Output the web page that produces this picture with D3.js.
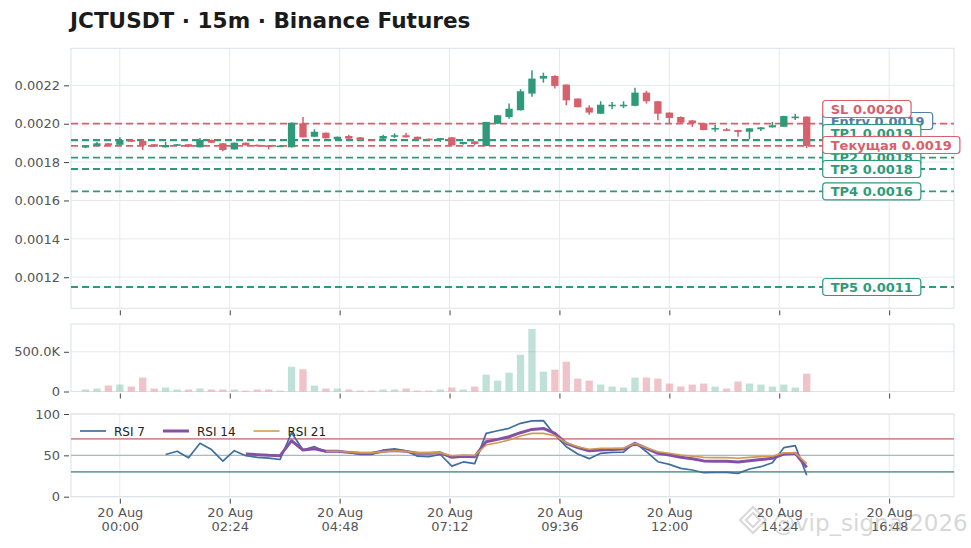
<!DOCTYPE html>
<html>
<head>
<meta charset="utf-8">
<script src="https://cdn.jsdelivr.net/npm/d3@7"></script>
<style>
  body { margin: 0; background: #fff; }
  svg { font-family: "DejaVu Sans", sans-serif; display: block; }
</style>
</head>
<body>
<div id="container"></div>
<script>
const title = "JCTUSDT · 15m · Binance Futures";

// 15m candles, first one opens 19 Aug 23:15
const firstCandle = "2025-08-19 23:15";
const candleMinutes = 15;
const viewStart = "2025-08-19 22:56";
const viewEnd = "2025-08-20 18:13";

const opens = [0.001878,0.001884,0.001898,0.001890,0.001915,0.001911,0.001893,0.001877,0.001885,0.001893,
  0.001877,0.001915,0.001898,0.001866,0.001901,0.001890,0.001887,0.001880,0.001877,0.002002,
  0.001932,0.001953,0.001919,0.001936,0.001929,0.001919,0.001922,0.001937,0.001940,0.001932,
  0.001922,0.001915,0.001929,0.001894,0.001908,0.001884,0.002000,0.002035,0.002070,0.002157,
  0.002235,0.002249,0.002204,0.002131,0.002084,0.002052,0.002093,0.002093,0.002093,0.002162,
  0.002117,0.002058,0.002035,0.002017,0.002002,0.001975,0.001971,0.001967,0.001958,0.001971,
  0.001981,0.001984,0.002030,0.002037];
const highs = [0.001889,0.001905,0.001899,0.001929,0.001918,0.001920,0.001894,0.001905,0.001894,0.001894,
  0.001925,0.001918,0.001899,0.001902,0.001902,0.001891,0.001889,0.001889,0.002006,0.002035,
  0.001971,0.001954,0.001933,0.001943,0.001931,0.001920,0.001943,0.001950,0.001953,0.001933,
  0.001923,0.001926,0.001931,0.001906,0.001910,0.002010,0.002046,0.002105,0.002180,0.002279,
  0.002266,0.002252,0.002205,0.002132,0.002096,0.002117,0.002113,0.002117,0.002187,0.002172,
  0.002119,0.002059,0.002037,0.002019,0.002004,0.001993,0.001978,0.001969,0.001978,0.001983,
  0.002009,0.002042,0.002051,0.002038];
const lows = [0.001873,0.001881,0.001884,0.001889,0.001905,0.001863,0.001878,0.001876,0.001884,0.001878,
  0.001876,0.001899,0.001856,0.001865,0.001886,0.001882,0.001866,0.001878,0.001876,0.001928,
  0.001931,0.001923,0.001918,0.001920,0.001913,0.001910,0.001920,0.001925,0.001928,0.001918,
  0.001913,0.001905,0.001886,0.001891,0.001887,0.001882,0.001999,0.002026,0.002069,0.002140,
  0.002214,0.002183,0.002096,0.002085,0.002047,0.002051,0.002075,0.002082,0.002091,0.002105,
  0.002018,0.002000,0.002004,0.001984,0.001966,0.001958,0.001962,0.001932,0.001919,0.001962,
  0.001980,0.001983,0.002019,0.001872];
const closes = [0.001884,0.001898,0.001887,0.001915,0.001906,0.001887,0.001880,0.001889,0.001893,0.001880,
  0.001915,0.001901,0.001863,0.001901,0.001887,0.001884,0.001880,0.001886,0.002005,0.001929,
  0.001958,0.001924,0.001932,0.001922,0.001915,0.001911,0.001936,0.001940,0.001929,0.001919,
  0.001915,0.001925,0.001887,0.001905,0.001894,0.002009,0.002044,0.002078,0.002169,0.002235,
  0.002249,0.002197,0.002122,0.002086,0.002058,0.002099,0.002099,0.002099,0.002162,0.002117,
  0.002052,0.002030,0.002005,0.002002,0.001967,0.001978,0.001964,0.001957,0.001976,0.001981,
  0.001992,0.002040,0.002037,0.001884];
const volumes = [25000,37000,75000,87000,62000,175000,37000,50000,25000,25000,
  37000,25000,25000,25000,12000,25000,25000,12000,312000,280000,
  75000,37000,37000,25000,12000,12000,25000,25000,37000,12000,
  12000,25000,50000,25000,62000,212000,137000,237000,462000,787000,
  250000,275000,375000,162000,137000,87000,62000,50000,175000,175000,
  162000,100000,62000,87000,100000,62000,37000,125000,100000,87000,
  62000,87000,50000,225000];

const rsi7 = [null,null,null,null,null,null,null,
  51,55,47,64.6,57,43,55.6,49.6,47.5,46.7,45,77.4,56.5,60.5,54.4,55,53.6,51,51,56.5,
  58,55.6,49,48.4,51,37,42,40,76.6,79.8,82.7,88.7,91.6,92,74.6,60.5,51.6,46,52.5,53.6,
  54,65.3,54.4,42.3,39.1,34.3,32.3,29,29.4,29.4,28.2,33.5,36.3,41,59.3,61.7,25.9];
const rsi14 = [null,null,null,null,null,null,null,null,null,null,null,null,null,null,
  51.6,50.8,50,49.6,67.7,56.5,58,55,55,53.6,52.5,52.5,55,56,54.8,52.5,52.5,53,47.6,49,
  48.4,66.5,69.3,72.5,77.4,81.4,82.6,76.6,64.5,59.3,55.6,56.5,57,57.7,64.5,58.3,52.5,50.4,47.6,46,
  43.3,43,43,42,43.5,44.9,46.5,51.6,52.5,35.5];
const rsi21 = [null,null,null,null,null,null,null,null,null,null,null,null,null,null,null,null,null,null,null,null,null,
  55,55,54,53,53,54.5,55.5,54.8,53,53,53,49.5,50.5,50,62.5,65.3,68.5,73.4,76.6,76.6,
  73.8,65.3,60.5,57.3,58.5,58.5,58.5,64.5,59.3,54.4,52.5,50.4,49,47.6,47.3,47.3,46.5,47.6,48.4,49,
  53,53,40];
const rsiNames = ["RSI 7", "RSI 14", "RSI 21"];
const rsiLevels = [70, 50, 30];

// trade levels (drawing order)
const levelNames = ["Entry", "TP1", "TP2", "TP3", "TP4", "TP5", "SL"];
const levelPrices = [0.001916, 0.001913, 0.001823, 0.001764, 0.001647, 0.001149, 0.002000];
const currentName = "Текущая";
const currentPrice = 0.001884;

const priceTicks = [0.0012, 0.0014, 0.0016, 0.0018, 0.0020, 0.0022];
const volumeTicks = [0, 500000];
const rsiTicks = [0, 50, 100];
const timeTicks = ["2025-08-20 00:00", "2025-08-20 02:24", "2025-08-20 04:48", "2025-08-20 07:12",
  "2025-08-20 09:36", "2025-08-20 12:00", "2025-08-20 14:24", "2025-08-20 16:48"];

const watermark = "@vip_signal2026";

// ---------------------------------------------------------------
const width = 971;
const height = 548;
const left = 71;
const right = 954;
const pricePanel = { top: 48.3, bottom: 308.3 };
const volPanel = { top: 324, bottom: 391.5 };
const rsiPanel = { top: 414, bottom: 496.7 };

const green = "#2f9a7a";
const red = "#d6606b";
const blue = "#4f7ea6";
const gridColor = "#e4e9ee";
const frameColor = "#dbe1e7";
const tickText = "#555";

const parse = d3.utcParse("%Y-%m-%d %H:%M");
const t0 = parse(firstCandle);

const candles = opens.map((o, i) => ({
    t: new Date(t0.getTime() + i * candleMinutes * 60000),
    o: o, h: highs[i], l: lows[i], c: closes[i], v: volumes[i],
    r7: rsi7[i], r14: rsi14[i], r21: rsi21[i]
}));

const x = d3.scaleUtc()
    .domain([parse(viewStart), parse(viewEnd)])
    .range([left, right]);

const yPrice = d3.scaleLinear().domain([0.001038, 0.002393]).range([pricePanel.bottom, pricePanel.top]);
const yVol = d3.scaleLinear().domain([0, 850000]).range([volPanel.bottom, volPanel.top]);
const yRsi = d3.scaleLinear().domain([0, 100]).range([rsiPanel.bottom, rsiPanel.top]);

const step = x(candles[1].t) - x(candles[0].t);
const bodyW = step * 0.64;

// attach first so text can be measured
const svg = d3.select("#container").append("svg")
    .attr("width", width)
    .attr("height", height);

svg.append("rect").attr("width", width).attr("height", height).attr("fill", "#fff");

svg.append("text")
    .attr("x", 70)
    .attr("y", 28)
    .attr("font-size", "21.6px")
    .attr("font-weight", "bold")
    .attr("fill", "#1b1b1b")
    .text(title);

const tickDates = timeTicks.map(parse);

function panel(p, yScale, yTicks, yFormat, showXLabels) {
    const g = svg.append("g");
    // grid
    g.selectAll(".vg")
        .data(tickDates)
        .enter()
        .append("line")
        .attr("x1", d => x(d)).attr("x2", d => x(d))
        .attr("y1", p.top).attr("y2", p.bottom)
        .attr("stroke", gridColor).attr("stroke-width", 1);
    g.selectAll(".hg")
        .data(yTicks)
        .enter()
        .append("line")
        .attr("x1", left).attr("x2", right)
        .attr("y1", d => yScale(d)).attr("y2", d => yScale(d))
        .attr("stroke", gridColor).attr("stroke-width", 1);
    g.append("rect")
        .attr("x", left).attr("y", p.top)
        .attr("width", right - left).attr("height", p.bottom - p.top)
        .attr("fill", "none").attr("stroke", frameColor);

    // y axis
    const ya = svg.append("g")
        .attr("transform", `translate(${left - 2},0)`)
        .call(d3.axisLeft(yScale).tickValues(yTicks).tickFormat(yFormat).tickSize(5).tickPadding(4));
    ya.select(".domain").remove();
    ya.selectAll("line").attr("stroke", "#444");
    ya.selectAll("text").attr("fill", tickText).attr("font-size", "13px").attr("font-family", "DejaVu Sans");

    // x axis
    const xa = svg.append("g")
        .attr("transform", `translate(0,${p.bottom + 2})`)
        .call(d3.axisBottom(x).tickValues(tickDates).tickSize(5).tickFormat(""));
    xa.select(".domain").remove();
    xa.selectAll("line").attr("stroke", "#444");
    if (showXLabels) {
        xa.selectAll(".tick text").remove();
        xa.selectAll(".tick")
            .append("text")
            .attr("text-anchor", "middle")
            .attr("fill", tickText)
            .attr("font-size", "13px")
            .attr("font-family", "DejaVu Sans")
            .selectAll("tspan")
            .data(d => [d3.utcFormat("%d %b")(d), d3.utcFormat("%H:%M")(d)])
            .enter()
            .append("tspan")
            .attr("x", 0)
            .attr("y", (d, i) => 18 + i * 14)
            .text(d => d);
    }
}

panel(pricePanel, yPrice, priceTicks, d3.format(".4f"), false);
panel(volPanel, yVol, volumeTicks, v => v === 0 ? "0" : (v / 1000).toFixed(1) + "K", false);
panel(rsiPanel, yRsi, rsiTicks, d3.format("d"), true);

// ---- trade level lines
const levels = levelNames.map((n, i) => ({
    name: n, price: levelPrices[i],
    color: n === "Entry" ? blue : (n === "SL" ? red : green)
}));
const current = { name: currentName, price: currentPrice, color: red };
const allLevels = levels.concat([current]);

svg.append("g")
    .selectAll("line")
    .data(allLevels)
    .enter()
    .append("line")
    .attr("x1", left).attr("x2", right)
    .attr("y1", d => yPrice(d.price)).attr("y2", d => yPrice(d.price))
    .attr("stroke", d => d.color)
    .attr("stroke-width", 1.8)
    .attr("stroke-dasharray", "7,4");

// ---- candles
const cg = svg.append("g");
cg.selectAll("line")
    .data(candles)
    .enter()
    .append("line")
    .attr("x1", d => x(d.t)).attr("x2", d => x(d.t))
    .attr("y1", d => yPrice(d.h)).attr("y2", d => yPrice(d.l))
    .attr("stroke", d => d.c >= d.o ? green : red)
    .attr("stroke-width", 1.5);
cg.selectAll("rect")
    .data(candles)
    .enter()
    .append("rect")
    .attr("x", d => x(d.t) - bodyW / 2)
    .attr("width", bodyW)
    .attr("y", d => yPrice(Math.max(d.o, d.c)))
    .attr("height", d => Math.max(1.6, Math.abs(yPrice(d.o) - yPrice(d.c))))
    .attr("fill", d => d.c >= d.o ? green : red);

// ---- volume
svg.append("g")
    .selectAll("rect")
    .data(candles)
    .enter()
    .append("rect")
    .attr("x", d => x(d.t) - bodyW / 2)
    .attr("width", bodyW)
    .attr("y", d => yVol(d.v))
    .attr("height", d => yVol(0) - yVol(d.v))
    .attr("fill", d => d.c >= d.o ? green : red)
    .attr("fill-opacity", d => d.c >= d.o ? 0.3 : 0.38);

// ---- RSI
const levelColors = ["#d38c90", "#a9bac4", "#6fa39a"];
svg.append("g")
    .selectAll("line")
    .data(rsiLevels)
    .enter()
    .append("line")
    .attr("x1", left).attr("x2", right)
    .attr("y1", d => yRsi(d)).attr("y2", d => yRsi(d))
    .attr("stroke", (d, i) => levelColors[i])
    .attr("stroke-width", (d, i) => i === 1 ? 1.3 : 1.8);

const rsiKeys = ["r7", "r14", "r21"];
const rsiColors = ["#3f6f9b", "#8551a2", "#d09b50"];
const rsiWidths = [1.7, 3, 1.6];
rsiKeys.forEach((k, i) => {
    const line = d3.line()
        .defined(d => d[k] != null)
        .x(d => x(d.t))
        .y(d => yRsi(d[k]));
    svg.append("path")
        .datum(candles)
        .attr("d", line)
        .attr("fill", "none")
        .attr("stroke", rsiColors[i])
        .attr("stroke-width", rsiWidths[i])
        .attr("stroke-linejoin", "round");
});

// legend
const lg = svg.append("g").attr("transform", `translate(80,${rsiPanel.top + 17})`);
let lx = 0;
rsiNames.forEach((n, i) => {
    lg.append("line")
        .attr("x1", lx).attr("x2", lx + 26)
        .attr("y1", 0).attr("y2", 0)
        .attr("stroke", rsiColors[i])
        .attr("stroke-width", rsiWidths[i]);
    const t = lg.append("text")
        .attr("x", lx + 34)
        .attr("y", 4.5)
        .attr("font-size", "12px")
        .attr("fill", "#222")
        .text(n);
    lx += 34 + t.node().getComputedTextLength() + 18;
});

// ---- level labels (stacked upward from the lowest price, min 12 px apart)
const labelX = x(candles[candles.length - 1].t) + 16;
const gap = 12;
const sorted = allLevels.slice().sort((a, b) => a.price - b.price);
let prevY = Infinity;
sorted.forEach(d => {
    d.ly = Math.min(yPrice(d.price), prevY - gap);
    prevY = d.ly;
});

const labG = svg.append("g");
allLevels.forEach(d => {
    const g = labG.append("g").attr("transform", `translate(${labelX},${d.ly})`);
    const r = g.append("rect")
        .attr("y", -8.5)
        .attr("height", 17)
        .attr("rx", 3)
        .attr("fill", "#fff")
        .attr("fill-opacity", 0.95)
        .attr("stroke", d.color)
        .attr("stroke-width", 1.2);
    const t = g.append("text")
        .attr("x", 8)
        .attr("y", 4.7)
        .attr("font-size", "13px")
        .attr("font-weight", "bold")
        .attr("fill", d.color)
        .text(`${d.name} ${d.price.toFixed(4)}`);
    r.attr("width", t.node().getComputedTextLength() + 16);
});

// ---- watermark
const wm = svg.append("g").attr("opacity", 0.33);
wm.append("path")
    .attr("d", "M753,507 L766,520 L753,533 L740,520 Z M753,513 L760,520 L753,527 L746,520 Z")
    .attr("fill", "none")
    .attr("stroke", "#888")
    .attr("stroke-width", 2);
wm.append("text")
    .attr("x", 772)
    .attr("y", 531)
    .attr("font-size", "23px")
    .attr("fill", "#888")
    .text(watermark);
</script>
</body>
</html>
